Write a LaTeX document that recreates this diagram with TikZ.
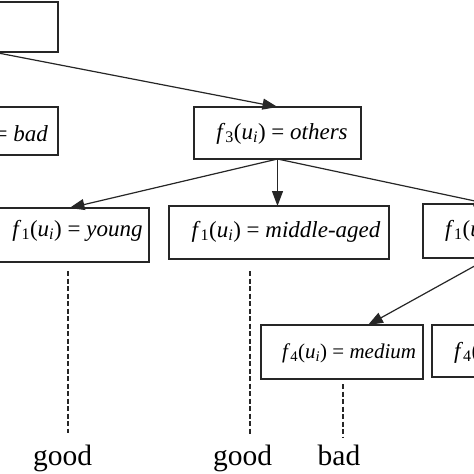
\documentclass[tikz,border=0pt]{standalone}
\usepackage{fontspec}
\setmainfont{Liberation Serif}
\usetikzlibrary{arrows.meta,calc}
\newcommand{\fuv}[2]{\textit{f}\textsubscript{#1}(\textit{u}\textsubscript{\textit{i}})\ =\ \textit{#2}}
\newcommand{\fuo}[1]{\textit{f}\textsubscript{#1}(\textit{u}\textsubscript{\textit{i}})}
\begin{document}
\begin{tikzpicture}[x=1pt,y=-1pt,
  box/.style={draw=black!85, line width=1.2pt, inner sep=0pt, outer sep=0pt, anchor=north west},
  lbl/.style={inner sep=0pt, outer sep=0pt, anchor=base, font=\fontsize{23}{27}\selectfont},
  leaf/.style={inner sep=0pt, outer sep=0pt, anchor=base, font=\fontsize{29.5}{34}\selectfont},
  arr/.style={draw=black!85, line width=1.2pt, -{Triangle[length=15pt,width=11pt]}},
  dsh/.style={draw=black!85, line width=1.1pt, dash pattern=on 5pt off 2.5pt}]
\useasboundingbox (0,0) rectangle (474,474);
\clip (0,0) rectangle (474,474);
\fill[white] (0,0) rectangle (474,474);
% boxes
\node[box, minimum width=188pt, minimum height=50pt] (top) at (-130,2) {};
\node[box, minimum width=188pt, minimum height=48pt] (badbox) at (-130,107) {};
\node[box, minimum width=167pt, minimum height=52pt] (others) at (194,107) {};
\node[box, minimum width=159pt, minimum height=54pt] (young) at (-10,208) {};
\node[box, minimum width=220pt, minimum height=53pt] (middle) at (169,206) {};
\node[box, minimum width=132pt, minimum height=54pt] (right) at (423,204) {};
\node[box, minimum width=162pt, minimum height=54pt] (medium) at (261,325) {};
\node[box, minimum width=150pt, minimum height=52pt] (ffour) at (432,325) {};
% texts
\node[lbl, anchor=base east] (badt) at (48,141) {= \textit{bad}};
\node[lbl] (otherst) at (282,139) {\fuv{3}{others}};
\node[lbl] (youngt) at (77.5,236) {\fuv{1}{young}};
\node[lbl] (middlet) at (286,237) {\fuv{1}{middle-aged}};
\node[lbl, anchor=base west] (rightt) at (445,236) {\fuo{1}};
\node[lbl, font=\fontsize{21}{25}\selectfont] (mediumt) at (349,358) {\fuv{4}{medium}};
\node[lbl, anchor=base west] (ffourt) at (454,358) {\fuo{4}};
% leaves
\node[leaf] (good1) at (62.5,465) {good};
\node[leaf] (good2) at (242.5,465) {good};
\node[leaf] (bad1) at (339,465) {bad};
% arrows
\coordinate (ts) at (-7,52);
\draw[arr] (ts) -- (others.north);
\draw[arr] (others.south) -- (young.north);
\draw[arr] (others.south) -- (others.south |- middle.north);
\draw[arr] (others.south) -- (right.north);
\draw[arr] (right.south) -- ($(medium.north)+(26,0)$);
% dashed
\draw[dsh] ($(young.south)+(-1.5,9)$) -- ($(good1.north)+(5.5,-12)$);
\draw[dsh] ($(middle.south)+(-29,12)$) -- ($(good2.north)+(7.5,-10)$);
\draw[dsh] ($(medium.south)+(1,5)$) -- ($(bad1.north)+(4,-7)$);
\end{tikzpicture}
\end{document}
